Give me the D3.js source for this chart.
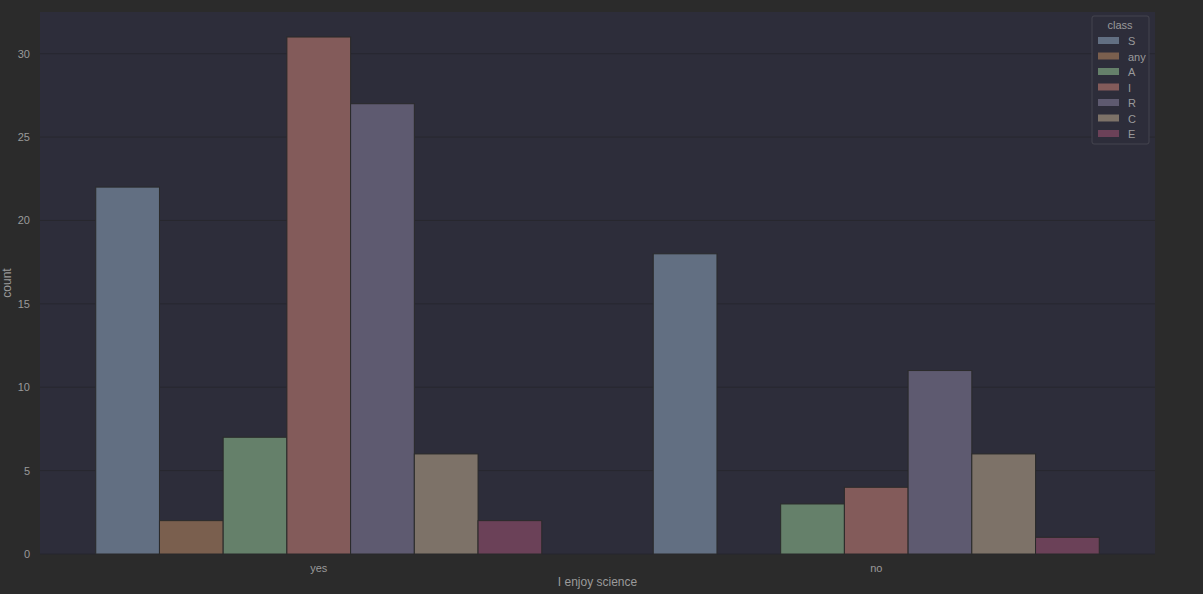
<!DOCTYPE html>
<html>
<head>
<meta charset="utf-8">
<script src="https://cdn.jsdelivr.net/npm/d3@7"></script>
<style>
  body { margin: 0; background: #2b2b2b; }
  text { font-family: Arial, "Liberation Sans", sans-serif; }
</style>
</head>
<body>
<div id="vis"></div>
<script>
// chart data
const GROUPS = ["yes", "no"];
const CLASSES = ["S", "any", "A", "I", "R", "C", "E"];
const YES_COUNTS = [22, 2, 7, 31, 27, 6, 2];
const NO_COUNTS = [18, 0, 3, 4, 11, 6, 1];
const Y_TICKS = [0, 5, 10, 15, 20, 25, 30];
const COLORS = ["#626f82", "#7a5f4e", "#65806a", "#835b5a", "#5e5a70", "#7d7268", "#6b4158"];

const FRAME_WIDTH = 1203, FRAME_HEIGHT = 594;
const MARGINS = {left: 40, right: 48, top: 12, bottom: 40};
const VIS_WIDTH = FRAME_WIDTH - MARGINS.left - MARGINS.right;
const VIS_HEIGHT = FRAME_HEIGHT - MARGINS.top - MARGINS.bottom;

const data = [];
GROUPS.forEach((g, gi) => {
  const vals = gi === 0 ? YES_COUNTS : NO_COUNTS;
  CLASSES.forEach((c, ci) => data.push({group: g, cls: c, count: vals[ci], color: COLORS[ci]}));
});

const svg = d3.select("#vis").append("svg")
  .attr("width", FRAME_WIDTH).attr("height", FRAME_HEIGHT);

const g = svg.append("g").attr("transform", `translate(${MARGINS.left},${MARGINS.top})`);

const X = d3.scaleBand().domain(GROUPS).range([0, VIS_WIDTH]).paddingInner(0).paddingOuter(0);
const XI = d3.scaleBand().domain(CLASSES).range([X.bandwidth() * 0.1, X.bandwidth() * 0.9]);
const Y = d3.scaleLinear().domain([0, 32.5]).range([VIS_HEIGHT, 0]);

// plot background
g.append("rect").attr("width", VIS_WIDTH).attr("height", VIS_HEIGHT).attr("fill", "#2d2d3a");

// gridlines
g.selectAll(".grid").data(Y_TICKS).enter().append("line")
  .attr("x1", 0).attr("x2", VIS_WIDTH)
  .attr("y1", d => Y(d)).attr("y2", d => Y(d))
  .attr("stroke", "#27272f").attr("stroke-width", 1);

// bars
g.selectAll(".bar").data(data.filter(d => d.count > 0)).enter().append("rect")
  .attr("x", d => X(d.group) + XI(d.cls))
  .attr("y", d => Y(d.count))
  .attr("width", XI.bandwidth())
  .attr("height", d => VIS_HEIGHT - Y(d.count))
  .attr("fill", d => d.color)
  .attr("stroke", "#2a2a2a").attr("stroke-width", 1);

// axes
const xAxis = g.append("g").attr("transform", `translate(0,${VIS_HEIGHT})`)
  .call(d3.axisBottom(X).tickSize(0).tickPadding(10));
const yAxis = g.append("g").call(d3.axisLeft(Y).tickValues(Y_TICKS).tickSize(0).tickPadding(10));
[xAxis, yAxis].forEach(a => {
  a.select(".domain").remove();
  a.selectAll("text").attr("fill", "#9a9a9a").attr("font-size", "11px");
});

// axis labels
svg.append("text").attr("x", MARGINS.left + VIS_WIDTH / 2).attr("y", 586)
  .attr("text-anchor", "middle").attr("fill", "#9a9a9a").attr("font-size", "12px")
  .text("I enjoy science");
svg.append("text").attr("transform", `translate(11,${MARGINS.top + VIS_HEIGHT / 2}) rotate(-90)`)
  .attr("text-anchor", "middle").attr("fill", "#9a9a9a").attr("font-size", "12px")
  .text("count");

// legend
const lg = svg.append("g").attr("transform", "translate(1092,16)");
lg.append("rect").attr("width", 57).attr("height", 128).attr("rx", 2)
  .attr("fill", "#2d2d3a").attr("stroke", "#45454f");
lg.append("text").attr("x", 28).attr("y", 13).attr("text-anchor", "middle")
  .attr("fill", "#9a9a9a").attr("font-size", "11px").text("class");
CLASSES.forEach((c, i) => {
  lg.append("rect").attr("x", 6).attr("y", 21 + i * 15.5).attr("width", 21).attr("height", 7)
    .attr("fill", COLORS[i]);
  lg.append("text").attr("x", 36).attr("y", 29 + i * 15.5)
    .attr("fill", "#9a9a9a").attr("font-size", "11px").text(c);
});
</script>
</body>
</html>
